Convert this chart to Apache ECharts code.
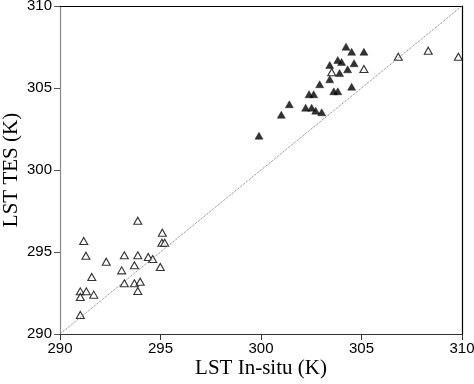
<!DOCTYPE html>
<html><head><meta charset="utf-8">
<script src="https://cdn.jsdelivr.net/npm/echarts@6/dist/echarts.min.js"></script>
<style>html,body{margin:0;padding:0;background:#fff}#c{width:474px;height:384px}</style>
</head><body><div id="c"></div>
<script>
const openInSitu = [293.87,295.09,291.18,295.07,295.21,291.29,293.20,293.87,294.39,294.61,292.30,293.70,294.99,293.07,291.58,293.20,293.70,293.99,293.87,291.01,291.31,291.01,291.68,291.01,303.52,305.12,306.83,308.32,309.82];
const openTES    = [296.91,296.18,295.67,295.57,295.57,294.77,294.80,294.80,294.70,294.57,294.41,294.19,294.09,293.88,293.48,293.09,293.09,293.19,292.62,292.60,292.60,292.26,292.40,291.16,305.96,306.16,306.91,307.27,306.91];
const filledInSitu = [304.23,304.51,305.12,303.82,304.01,304.63,303.42,304.31,303.91,303.42,302.92,304.51,303.62,303.82,302.39,302.62,301.41,302.22,302.52,302.72,303.02,301.01,299.90];
const filledTES    = [307.52,307.21,307.21,306.71,306.59,306.51,306.40,306.14,305.91,305.53,305.23,305.08,304.80,304.80,304.62,304.62,304.01,303.80,303.80,303.62,303.52,303.37,302.09];
const oneToOne = [[290,290],[310,310]];
const ticks = [290,295,300,305,310];
const xTitle = 'LST In-situ (K)';
const yTitle = 'LST TES (K)';

const zip = (a,b)=>a.map((v,i)=>[v,b[i]]);
const chart = echarts.init(document.getElementById('c'));
const lblFont = {fontFamily:'Liberation Sans, Arial, sans-serif', fontSize:15, color:'#000'};
chart.setOption({
  animation:false,
  grid:{left:60,right:12,top:6,bottom:50,containLabel:false,outerBoundsMode:'none'},
  graphic:[{
    type:'text', x:11, y:170, rotation:Math.PI/2,
    style:{text:yTitle, fill:'#000', font:'21px "Liberation Serif", "Times New Roman", serif', textAlign:'center', textVerticalAlign:'middle'}
  }],
  xAxis:[{
    type:'value',min:290,max:310,interval:5,
    name:xTitle,nameLocation:'middle',nameGap:24,nameMoveOverlap:false,
    nameTextStyle:{fontFamily:'Liberation Serif, Times New Roman, serif',fontSize:21,color:'#000'},
    axisLine:{lineStyle:{color:'#333',width:1.2}},
    axisTick:{length:6,lineStyle:{color:'#333'}},
    axisLabel:Object.assign({margin:7},lblFont),
    splitLine:{show:false}
  },{
    type:'value',min:290,max:310,position:'top',
    axisLine:{lineStyle:{color:'#000',width:1.2}},axisTick:{show:false},axisLabel:{show:false},splitLine:{show:false}
  }],
  yAxis:[{
    type:'value',min:290,max:310,interval:5,
    axisLine:{lineStyle:{color:'#888',width:1.2}},
    axisTick:{length:6,lineStyle:{color:'#555'}},
    axisLabel:Object.assign({margin:8},lblFont),
    splitLine:{show:false}
  },{
    type:'value',min:290,max:310,position:'right',
    axisLine:{lineStyle:{color:'#000',width:1.2}},axisTick:{show:false},axisLabel:{show:false},splitLine:{show:false}
  }],
  series:[
    {type:'line',data:oneToOne,symbol:'none',lineStyle:{type:'dotted',color:'#777',width:1},silent:true},
    {type:'scatter',data:zip(openInSitu,openTES),symbol:'triangle',symbolSize:[8,7],
     itemStyle:{color:'#fff',borderColor:'#000',borderWidth:1.1}},
    {type:'scatter',data:zip(filledInSitu,filledTES),symbol:'triangle',symbolSize:[8,7],
     itemStyle:{color:'#000',borderColor:'#000',borderWidth:0.5}}
  ]
});
</script></body></html>
